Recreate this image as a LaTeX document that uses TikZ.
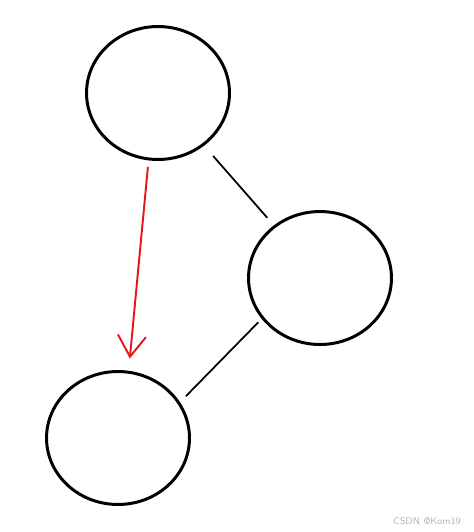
\documentclass[tikz,border=0pt]{standalone}
\usepackage{xcolor}
\usepackage{tikz}
\usetikzlibrary{shapes.geometric,arrows.meta}
\definecolor{PenRed}{HTML}{E8141C}
\definecolor{MarkGray}{HTML}{B4B4B4}

\begin{document}
\begin{tikzpicture}[x=0.02cm, y=-0.02cm,
    vertex/.style={draw, ellipse, line width=1.7pt, minimum width=2.86cm, minimum height=2.66cm},
    link/.style={line width=1pt, line cap=round}]
      \useasboundingbox (0,0) rectangle (474,532);
      \node[vertex] (top) at (158,93) {};
      \node[vertex] (right) at (320,278) {};
      \node[vertex] (bottom) at (118,438) {};
      \draw[link, shorten <=8pt, shorten >=6pt] (top) -- (right);
      \draw[link, shorten <=3pt, shorten >=5pt] (right.-145) -- (bottom.30);
      \draw[link, PenRed, line width=1.1pt, shorten <=4pt, shorten >=7pt,
        -{Straight Barb[length=12pt, width=16pt, line width=1.1pt]}] (top.-98) -- (bottom.81);
      \node[font=\sffamily\fontsize{5.5}{6}\selectfont, text=MarkGray] (mark) at (427,521) {CSDN @Kom19};
    \end{tikzpicture}
\end{document}
